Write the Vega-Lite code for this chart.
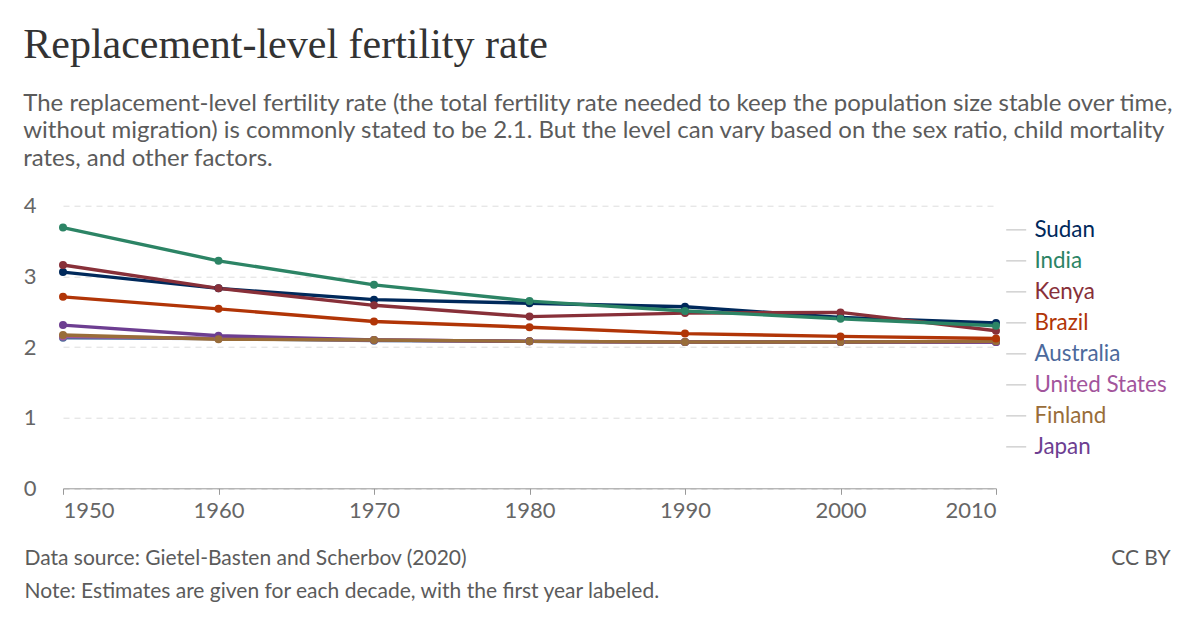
{
  "$schema": "https://vega.github.io/schema/vega-lite/v6.json",
  "autosize": {"type": "none"},
  "width": 933,
  "height": 282.6,
  "padding": {"left": 63, "top": 205.7, "right": 204, "bottom": 138.7},
  "background": "white",
  "config": {"view": {"stroke": null}},
  "title": {
    "text": "Replacement-level fertility rate",
    "subtitle": [
      "The replacement-level fertility rate (the total fertility rate needed to keep the population size stable over time,",
      "without migration) is commonly stated to be 2.1. But the level can vary based on the sex ratio, child mortality",
      "rates, and other factors."
    ],
    "anchor": "start",
    "frame": "bounds",
    "font": "Liberation Serif",
    "fontSize": 42,
    "fontWeight": "normal",
    "color": "#333333",
    "subtitleFont": "Lato",
    "subtitleFontSize": 24,
    "subtitleColor": "#5b5b5b",
    "subtitleLineHeight": 27.5,
    "subtitlePadding": 25,
    "offset": 23
  },
  "data": {
    "values": [
      {"country": "Australia", "year": 1950, "value": 2.13},
      {"country": "Australia", "year": 1960, "value": 2.12},
      {"country": "Australia", "year": 1970, "value": 2.09},
      {"country": "Australia", "year": 1980, "value": 2.08},
      {"country": "Australia", "year": 1990, "value": 2.07},
      {"country": "Australia", "year": 2000, "value": 2.07},
      {"country": "Australia", "year": 2010, "value": 2.07},
      {"country": "United States", "year": 1950, "value": 2.15},
      {"country": "United States", "year": 1960, "value": 2.12},
      {"country": "United States", "year": 1970, "value": 2.1},
      {"country": "United States", "year": 1980, "value": 2.08},
      {"country": "United States", "year": 1990, "value": 2.07},
      {"country": "United States", "year": 2000, "value": 2.07},
      {"country": "United States", "year": 2010, "value": 2.07},
      {"country": "Japan", "year": 1950, "value": 2.31},
      {"country": "Japan", "year": 1960, "value": 2.16},
      {"country": "Japan", "year": 1970, "value": 2.1},
      {"country": "Japan", "year": 1980, "value": 2.08},
      {"country": "Japan", "year": 1990, "value": 2.07},
      {"country": "Japan", "year": 2000, "value": 2.07},
      {"country": "Japan", "year": 2010, "value": 2.07},
      {"country": "Finland", "year": 1950, "value": 2.17},
      {"country": "Finland", "year": 1960, "value": 2.11},
      {"country": "Finland", "year": 1970, "value": 2.1},
      {"country": "Finland", "year": 1980, "value": 2.08},
      {"country": "Finland", "year": 1990, "value": 2.07},
      {"country": "Finland", "year": 2000, "value": 2.07},
      {"country": "Finland", "year": 2010, "value": 2.08},
      {"country": "Brazil", "year": 1950, "value": 2.71},
      {"country": "Brazil", "year": 1960, "value": 2.54},
      {"country": "Brazil", "year": 1970, "value": 2.36},
      {"country": "Brazil", "year": 1980, "value": 2.28},
      {"country": "Brazil", "year": 1990, "value": 2.19},
      {"country": "Brazil", "year": 2000, "value": 2.15},
      {"country": "Brazil", "year": 2010, "value": 2.12},
      {"country": "Sudan", "year": 1950, "value": 3.06},
      {"country": "Sudan", "year": 1960, "value": 2.83},
      {"country": "Sudan", "year": 1970, "value": 2.67},
      {"country": "Sudan", "year": 1980, "value": 2.62},
      {"country": "Sudan", "year": 1990, "value": 2.57},
      {"country": "Sudan", "year": 2000, "value": 2.42},
      {"country": "Sudan", "year": 2010, "value": 2.34},
      {"country": "Kenya", "year": 1950, "value": 3.16},
      {"country": "Kenya", "year": 1960, "value": 2.83},
      {"country": "Kenya", "year": 1970, "value": 2.59},
      {"country": "Kenya", "year": 1980, "value": 2.43},
      {"country": "Kenya", "year": 1990, "value": 2.48},
      {"country": "Kenya", "year": 2000, "value": 2.49},
      {"country": "Kenya", "year": 2010, "value": 2.23},
      {"country": "India", "year": 1950, "value": 3.69},
      {"country": "India", "year": 1960, "value": 3.22},
      {"country": "India", "year": 1970, "value": 2.88},
      {"country": "India", "year": 1980, "value": 2.65},
      {"country": "India", "year": 1990, "value": 2.51},
      {"country": "India", "year": 2000, "value": 2.4},
      {"country": "India", "year": 2010, "value": 2.3}
    ]
  },
  "encoding": {
    "x": {
      "field": "year",
      "type": "quantitative",
      "scale": {"domain": [1950, 2010], "nice": false, "zero": false},
      "axis": {
        "values": [1950, 1960, 1970, 1980, 1990, 2000, 2010],
        "format": "d",
        "grid": false,
        "domain": true,
        "domainColor": "#999999",
        "ticks": true,
        "tickColor": "#999999",
        "tickSize": 6,
        "labelFont": "Lato",
        "labelFontSize": 22,
        "labelColor": "#666666",
        "labelPadding": 6,
        "labelFlush": true,
        "title": [
          "Data source: Gietel-Basten and Scherbov (2020)",
          "Note: Estimates are given for each decade, with the first year labeled."
        ],
        "titleFont": "Lato",
        "titleFontSize": 21,
        "titleFontWeight": "normal",
        "titleColor": "#5b5b5b",
        "titleAlign": "left",
        "titleBaseline": "top",
        "titleLineHeight": 33,
        "titleX": -39,
        "titleY": 59
      }
    },
    "y": {
      "field": "value",
      "type": "quantitative",
      "scale": {"domain": [0, 4], "nice": false},
      "axis": {
        "values": [0, 1, 2, 3, 4],
        "domain": false,
        "ticks": false,
        "tickSize": 0,
        "grid": true,
        "gridColor": "#dddddd",
        "gridDash": [6, 5],
        "gridWidth": 1,
        "labelFont": "Lato",
        "labelFontSize": 22,
        "labelColor": "#666666",
        "labelPadding": 27,
        "title": "CC BY",
        "titleAngle": 0,
        "titleFont": "Lato",
        "titleFontSize": 21,
        "titleFontWeight": "normal",
        "titleColor": "#5b5b5b",
        "titleAlign": "right",
        "titleBaseline": "middle",
        "titleX": 1107,
        "titleY": 353
      }
    }
  },
  "layer": [
    {
      "mark": {"type": "line", "strokeWidth": 3.4},
      "encoding": {
        "color": {
          "field": "country",
          "type": "nominal",
          "scale": {
            "domain": ["Sudan", "India", "Kenya", "Brazil", "Australia", "United States", "Finland", "Japan"],
            "range": ["#00295b", "#2c8465", "#883039", "#b13507", "#4c6a9c", "#a2559c", "#996d39", "#6d3e91"]
          },
          "legend": null
        }
      }
    },
    {
      "mark": {"type": "point", "filled": true, "size": 64, "opacity": 1},
      "encoding": {
        "color": {
          "field": "country",
          "type": "nominal",
          "scale": {
            "domain": ["Sudan", "India", "Kenya", "Brazil", "Australia", "United States", "Finland", "Japan"],
            "range": ["#00295b", "#2c8465", "#883039", "#b13507", "#4c6a9c", "#a2559c", "#996d39", "#6d3e91"]
          },
          "legend": {
            "orient": "none",
            "legendX": 942,
            "legendY": 13,
            "title": null,
            "symbolType": "stroke",
            "symbolSize": 400,
            "symbolStrokeWidth": 1,
            "symbolStrokeColor": "#bbbbbb",
            "labelFont": "Lato",
            "labelFontSize": 22.4,
            "labelOffset": 7,
            "rowPadding": 8,
            "labelColor": {"expr": "datum.value === 'Sudan' ? '#00295b' : datum.value === 'India' ? '#2c8465' : datum.value === 'Kenya' ? '#883039' : datum.value === 'Brazil' ? '#b13507' : datum.value === 'Australia' ? '#4c6a9c' : datum.value === 'United States' ? '#a2559c' : datum.value === 'Finland' ? '#996d39' : '#6d3e91'"}
          }
        }
      }
    }
  ],
  "resolve": {"scale": {"color": "independent"}, "legend": {"color": "independent"}}
}
